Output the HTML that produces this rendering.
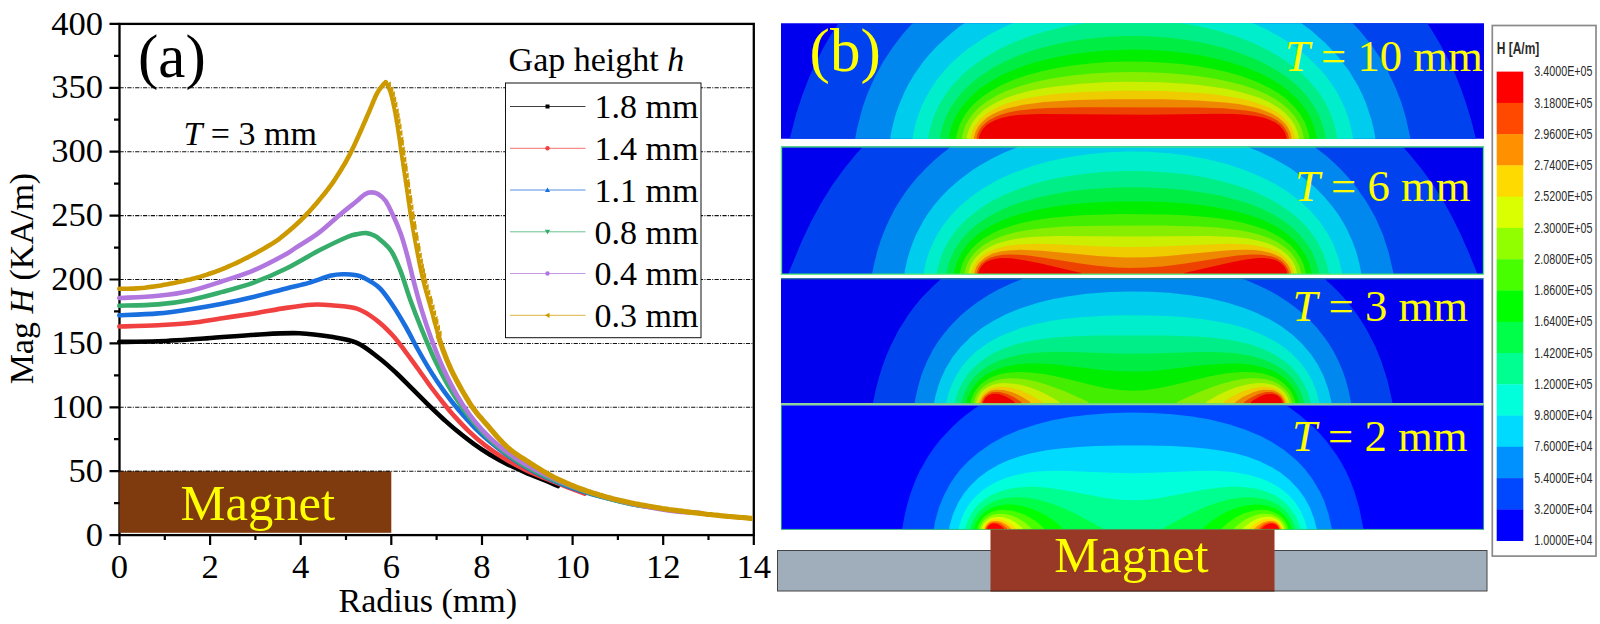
<!DOCTYPE html>
<html lang="en"><head><meta charset="utf-8"><title>Figure</title>
<style>html,body{margin:0;padding:0;background:#fff}svg{display:block}</style></head>
<body>
<svg width="1600" height="624" viewBox="0 0 1600 624" font-family="'Liberation Serif', serif">
<rect width="1600" height="624" fill="#fff"/>
<g id="plotA">
<line x1="119.5" x2="753.8" y1="471.2" y2="471.2" stroke="#111" stroke-width="1.05" stroke-dasharray="4.2 1.3 1 1.33"/>
<line x1="119.5" x2="753.8" y1="407.3" y2="407.3" stroke="#111" stroke-width="1.05" stroke-dasharray="4.2 1.3 1 1.33"/>
<line x1="119.5" x2="753.8" y1="343.4" y2="343.4" stroke="#111" stroke-width="1.05" stroke-dasharray="4.2 1.3 1 1.33"/>
<line x1="119.5" x2="753.8" y1="279.5" y2="279.5" stroke="#111" stroke-width="1.05" stroke-dasharray="4.2 1.3 1 1.33"/>
<line x1="119.5" x2="753.8" y1="215.6" y2="215.6" stroke="#111" stroke-width="1.05" stroke-dasharray="4.2 1.3 1 1.33"/>
<line x1="119.5" x2="753.8" y1="151.7" y2="151.7" stroke="#111" stroke-width="1.05" stroke-dasharray="4.2 1.3 1 1.33"/>
<line x1="119.5" x2="753.8" y1="87.8" y2="87.8" stroke="#111" stroke-width="1.05" stroke-dasharray="4.2 1.3 1 1.33"/>
<rect x="119.5" y="23.9" width="634.3" height="511.2" fill="none" stroke="#000" stroke-width="2.3"/>
<clipPath id="cpA"><rect x="116.1" y="23.9" width="636.7" height="511.2"/></clipPath>
<g fill="none" stroke-width="4.6" stroke-linejoin="round" stroke-linecap="round" clip-path="url(#cpA)">
<path d="M119.3 341.9C125.8 341.8 143.5 341.9 158 341.3C172.5 340.7 188.5 339.6 206.2 338.4C223.8 337.2 248.4 335.1 263.9 334.2C279.4 333.3 288 332.8 299.2 333.2C310.4 333.6 321.6 335.2 331.2 336.8C340.8 338.4 348.9 339.3 356.9 342.9C364.9 346.5 372.8 353.2 379.3 358.2C385.8 363.2 390.5 367.6 396 372.7C401.5 377.8 406.8 383.4 412.1 388.7C417.5 394 422.8 399.4 428.1 404.6C433.4 409.7 439.3 415.3 444.1 419.7C448.9 424 452 426.8 456.9 430.8C461.8 434.8 468.2 439.9 473.7 443.8C479.2 447.8 484 451 489.7 454.5C495.4 457.9 501.7 461.4 507.7 464.4C513.7 467.4 519.7 470 525.7 472.6C531.7 475.2 538.4 477.8 543.7 480C549.1 482.2 555.4 485 557.8 486" stroke="#000000"/>
<path d="M119.3 326.5C125.8 326.3 146.3 325.8 158.1 325.2C169.9 324.6 179.5 324.2 190.2 323C200.9 321.8 211.5 319.8 222.2 318.2C232.9 316.6 243.6 315.1 254.3 313.4C265 311.7 276.7 309.3 286.3 307.9C295.9 306.4 304.5 305.1 312 304.7C319.5 304.3 323.7 304.6 331.2 305.3C338.7 306 349.4 306.2 356.9 308.6C364.4 311 370.2 315.4 376.1 319.8C382 324.2 387.5 329.7 392.4 335C397.3 340.3 401.2 346.1 405.6 351.8C410 357.6 414.2 363.6 418.5 369.5C422.8 375.4 427 381.7 431.3 387.5C435.6 393.2 440.4 399.4 444.1 404C447.8 408.7 449.3 410.6 453.5 415.2C457.7 419.8 463.9 426.6 469.2 431.6C474.5 436.7 479.5 441 485.2 445.4C490.9 449.8 497.2 454.1 503.2 457.8C509.2 461.5 515.2 464.7 521.2 467.7C527.2 470.8 533.2 473.4 539.2 476C545.2 478.6 551.2 480.9 557.2 483.2C563.2 485.6 570.6 488.3 575.2 490.1C579.8 491.8 583.1 493 584.7 493.6" stroke="#F14040"/>
<path d="M119.3 315.3C125.8 315 146.3 314.4 158.1 313.4C169.9 312.4 179.5 310.8 190.2 309.2C200.9 307.6 211.5 305.8 222.2 303.7C232.9 301.6 243.6 299.2 254.3 296.7C265 294.1 277.2 290.7 286.3 288.4C295.4 286.1 301.3 285 308.8 282.9C316.3 280.8 325.3 276.9 331.2 275.5C337.1 274.1 340.1 274.3 344.1 274.2C348.1 274.1 351.8 274.4 355 275C358.2 275.6 359.2 275.4 363.3 277.5C367.4 279.6 374.4 283.1 379.3 287.7C384.2 292.3 388.2 298.6 392.5 305C396.8 311.4 401 318.5 405.3 326C409.6 333.5 413.9 342.3 418.2 350C422.5 357.7 427 365.5 431.3 372.4C435.6 379.3 439.6 385.1 444.1 391.3C448.6 397.5 453.4 403.8 458.5 409.8C463.6 415.8 469.2 422.1 474.6 427.5C480 432.9 484.9 437.5 490.6 442.2C496.3 447 502.6 451.8 508.6 456C514.6 460.2 520.6 463.9 526.6 467.4C532.6 470.8 538.6 473.8 544.6 476.7C550.6 479.5 556.6 482 562.6 484.3C568.6 486.7 574.6 488.8 580.6 490.7C586.6 492.7 592.6 494.4 598.6 496.1C604.6 497.7 610.6 499.2 616.6 500.6C622.6 502 630.8 503.7 634.6 504.5C638.5 505.3 638.9 505.3 639.7 505.5" stroke="#1A6FDF"/>
<path d="M119.3 305.7C125.8 305.5 146.3 305.4 158.1 304.4C169.9 303.4 179.5 302 190.2 299.9C200.9 297.8 211.5 294.8 222.2 291.9C232.9 289 243.6 286.2 254.3 282.3C265 278.4 275.6 273.8 286.3 268.5C297 263.2 308.2 256.1 318.4 250.8C328.6 245.6 340.7 239.8 347.3 237C353.9 234.2 354.8 234.7 358 234C361.2 233.3 364 232.9 366.5 233.1C369 233.3 370.9 234 373 235C375.1 236 376.3 236.3 379.3 239C382.3 241.7 387.6 245.6 391.2 251C394.8 256.4 397.6 263.4 400.8 271.7C404 279.9 407 290.9 410.5 300.5C414 310.1 417.7 319.6 421.7 329.4C425.7 339.2 430.2 350.3 434.5 359.3C438.8 368.4 442.5 375.7 447.3 384C452.1 392.3 458.3 402 463.4 409.2C468.5 416.4 472.7 421.6 477.8 427.2C482.9 432.9 488.1 438.3 493.8 443.3C499.5 448.3 505.8 453.2 511.8 457.4C517.8 461.6 523.8 465.2 529.8 468.5C535.8 471.8 541.8 474.7 547.8 477.4C553.8 480.1 559.8 482.5 565.8 484.7C571.8 487 577.8 489.1 583.8 491.1C589.8 493.1 595.8 494.9 601.8 496.6C607.8 498.4 613.8 500 619.8 501.4C625.8 502.9 631.9 504.2 637.8 505.3C643.7 506.3 652.1 507.3 655 507.7" stroke="#37AD6B"/>
<path d="M119.3 298C125.8 297.6 146.3 296.9 158.1 295.7C169.9 294.5 179.5 293.3 190.2 290.9C200.9 288.5 211.5 284.8 222.2 281.3C232.9 277.8 243.6 274.7 254.3 270.1C265 265.6 279.4 257.8 286.3 254C293.2 250.2 290.6 251.1 296 247.6C301.4 244.1 310.9 238.7 318.4 233.1C325.9 227.5 334.4 219.2 340.8 213.9C347.2 208.6 352.9 204.3 356.9 201C360.9 197.7 362.6 195.6 365 194.2C367.4 192.8 369.1 192.4 371.3 192.4C373.5 192.4 375.6 192.6 378 194C380.4 195.4 383.1 197.2 385.7 201C388.3 204.8 391.3 211.7 393.8 217C396.3 222.3 398.2 226.6 400.5 233C402.8 239.4 405.1 247.5 407.3 255.6C409.5 263.6 411.3 272.2 413.7 281.3C416.1 290.4 418.8 300.6 421.7 310.2C424.6 319.8 427.8 329.3 431.3 338.7C434.8 348.1 438.2 357.3 442.5 366.7C446.8 376.1 452.3 387.1 456.9 395.1C461.4 403.1 465.5 409 469.8 414.8C474.1 420.7 477.8 425.2 482.6 430.3C487.4 435.5 492.9 440.8 498.6 445.5C504.3 450.2 510.6 454.8 516.6 458.7C522.6 462.7 528.6 466.1 534.6 469.3C540.6 472.6 546.6 475.4 552.6 478.1C558.6 480.8 564.6 483.2 570.6 485.5C576.6 487.8 582.6 489.9 588.6 491.8C594.6 493.8 600.6 495.6 606.6 497.3C612.6 499 618.6 500.5 624.6 502C630.6 503.4 636.6 504.8 642.6 506C648.6 507.2 654.6 508.3 660.6 509.2C666.6 510.2 672 511 678.6 511.6C685.2 512.2 696.4 512.7 700 512.9" stroke="#B177DE"/>
<path d="M119.3 288.7L120.6 288.7L122.2 288.7L124.1 288.7L126.3 288.7L128.6 288.7L131.2 288.6L133.8 288.6L136.5 288.4L139.2 288.3L142 288L144.8 287.7L147.8 287.3L150.9 286.9L154.2 286.4L157.5 285.9L160.8 285.4L164.2 284.8L167.5 284.2L170.8 283.5L174.1 282.9L177.3 282.2L180.5 281.6L183.7 280.9L186.9 280.1L190.2 279.4L193.4 278.6L196.6 277.7L199.8 276.9L203 275.9L206.2 274.9L209.4 273.8L212.6 272.7L215.8 271.6L219 270.3L222.2 269.1L225.4 267.8L228.6 266.4L231.8 265L235 263.6L238.2 262.1L241.5 260.5L244.9 258.8L248.3 257.1L251.8 255.2L255.2 253.4L258.6 251.5L261.9 249.7L264.9 248L267.7 246.3L270.3 244.8L272.6 243.4L274.5 242.1L276.3 241L277.9 239.8L279.3 238.8L280.7 237.7L282 236.6L283.4 235.5L284.8 234.4L286.3 233.1L287.9 231.8L289.5 230.4L291.1 229.1L292.7 227.7L294.3 226.3L296 224.8L297.6 223.3L299.2 221.8L300.8 220.3L302.4 218.7L304 217.1L305.6 215.4L307.2 213.7L308.8 212L310.4 210.2L312 208.5L313.6 206.6L315.2 204.8L316.8 202.9L318.4 201L320 199.1L321.6 197.1L323.2 195.2L324.8 193.2L326.4 191.2L328 189.1L329.6 187L331.2 184.8L332.8 182.6L334.4 180.2L336 177.8L337.6 175.3L339.2 172.8L340.8 170.2L342.4 167.5L344.1 164.8L345.7 162L347.3 159.1L348.9 156.1L350.5 153L352.1 149.7L353.8 146.3L355.5 142.6L357.2 138.8L358.9 135.1L360.6 131.3L362.2 127.6L363.7 124.1L365.2 120.7L366.5 117.7L367.7 114.9L368.9 112.2L370 109.6L371 107.1L372 104.8L372.9 102.6L373.7 100.6L374.6 98.7L375.3 96.9L376.1 95.3L376.8 93.9L377.5 92.6L378.1 91.6L378.6 90.7L379.1 89.9L379.6 89.3L380.1 88.6L380.6 88L381 87.4L381.5 86.8L382 86.2L382.5 85.6L383 85L383.5 84.5L383.9 84L384.4 83.5L384.8 83.1L385.1 82.8L385.5 82.5L385.7 82.2" stroke="#CC9900" stroke-linecap="round"/>
<path d="M438.4 336.2L439.3 339L440.2 341.7L441.1 344.4L442 347L442.9 349.7L443.9 352.2L444.9 354.8L445.8 357.3L446.8 359.8L447.9 362.3L448.9 364.7L450 367.1L451 369.4L452.1 371.7L453.2 374L454.4 376.2L455.5 378.4L456.6 380.6L457.8 382.8L459 384.9L460.2 387.1L461.4 389.3L462.7 391.5L464 393.7L465.3 395.9L466.6 398.1L467.9 400.2L469.2 402.3L470.5 404.3L471.7 406.2L473 408L474.2 409.7L475.3 411.1L476.3 412.5L477.3 413.7L478.3 415L479.4 416.2L480.6 417.5L481.9 419L483.3 420.6L484.9 422.4L486.7 424.5L488.7 426.8L490.8 429.3L493.1 432L495.4 434.7L497.8 437.4L500.2 440L502.6 442.6L505 444.9L507.3 447.1L509.5 449L511.8 450.9L514 452.5L516.3 454.1L518.5 455.6L520.8 457.1L523.1 458.5L525.3 459.9L527.6 461.4L529.8 462.8L532 464.3L534.3 465.7L536.5 467.1L538.8 468.5L541 469.9L543.2 471.3L545.5 472.6L547.7 473.9L550 475.1L552.2 476.3L554.4 477.5L556.7 478.6L558.9 479.6L561.2 480.7L563.4 481.7L565.6 482.7L567.9 483.6L570.1 484.6L572.4 485.5L574.6 486.4L576.8 487.3L579.1 488.2L581.3 489L583.6 489.8L585.9 490.6L588.1 491.4L590.4 492.1L592.6 492.9L594.9 493.6L597.1 494.3L599.3 495L601.6 495.6L603.8 496.3L606.1 496.9L608.3 497.5L610.5 498.1L612.8 498.7L615 499.2L617.3 499.8L619.5 500.3L621.7 500.8L624 501.3L626.2 501.8L628.5 502.3L630.8 502.8L633 503.2L635.3 503.7L637.5 504.1L639.8 504.6L642 505L644.2 505.4L646.5 505.8L648.7 506.2L651 506.6L653.2 507L655.4 507.4L657.7 507.7L659.9 508.1L662.2 508.5L664.4 508.8L666.6 509.1L668.9 509.5L671.1 509.8L673.4 510.1L675.6 510.4L677.9 510.7L680.2 510.9L682.4 511.2L684.7 511.5L686.9 511.8L689.1 512.1L691.4 512.4L693.6 512.6L695.9 512.9L698.1 513.2L700.3 513.5L702.6 513.7L704.8 514L707.1 514.3L709.3 514.5L711.5 514.7L713.8 515L716 515.2L718.3 515.4L720.5 515.7L722.8 515.9L725 516.1L727.3 516.3L729.5 516.5L731.7 516.7L734 516.9L736.4 517.1L739 517.3L741.5 517.5L744 517.7L746.4 517.9L748.6 518.1L750.5 518.3L752.2 518.4L753.5 518.5" stroke="#CC9900" stroke-width="5.2"/>
<path d="M385.7 82.2L385.9 82.6L386.2 83.1L386.5 83.7L386.9 84.4L387.3 85.1L387.7 85.9L388.1 86.8L388.5 87.7L388.9 88.6L389.3 89.5L389.6 90.4L390 91.3L390.3 92.3L390.6 93.2L390.9 94.3L391.2 95.4L391.5 96.6L391.9 97.9L392.2 99.4L392.6 101L393 102.8L393.4 104.7L393.8 106.8L394.3 108.9L394.7 111.2L395.2 113.6L395.6 116.1L396.1 118.6L396.5 121.3L397 124L397.5 126.8L397.9 129.9L398.4 133L398.9 136.2L399.4 139.5L399.9 142.9L400.3 146.3L400.8 149.6L401.3 152.9L401.8 156.2L402.3 159.4L402.8 162.6L403.2 165.8L403.7 169L404.2 172.2L404.7 175.4L405.2 178.6L405.6 181.8L406.1 185L406.6 188.2L407.1 191.4L407.5 194.6L408 197.7L408.4 200.9L408.9 204L409.4 207.2L409.8 210.4L410.3 213.7L410.9 217L411.4 220.3L412 223.7L412.6 227.3L413.2 231L413.9 234.7L414.6 238.3L415.2 242L415.9 245.6L416.6 249.1L417.2 252.4L417.8 255.6L418.4 258.5L418.9 261.3L419.4 263.9L419.9 266.4L420.5 268.8L421 271.3L421.5 273.7L422.1 276.1L422.7 278.6L423.3 281.3L424 284.1L424.7 286.9L425.5 289.7L426.3 292.6L427.1 295.6L428 298.5L428.8 301.4L429.7 304.4L430.5 307.3L431.3 310.2L432.1 313.1L432.9 316L433.6 318.9L434.4 321.9L435.2 324.8L436 327.7L436.8 330.6L437.6 333.4L438.4 336.2" stroke="#CC9900" stroke-width="3.8" stroke-linecap="round"/>
<path d="M384.7 84.4L390.9 81.4V87.4ZM387.1 89.5L393.3 86.5V92.5ZM388.7 94.3L394.9 91.3V97.3ZM390 99.4L396.2 96.4V102.4ZM391.2 104.7L397.4 101.7V107.7ZM392.5 111.2L398.7 108.2V114.2ZM393.4 116.1L399.6 113.1V119.1ZM394.3 121.3L400.5 118.3V124.3ZM395.3 126.8L401.5 123.8V129.8ZM396.2 133L402.4 130V136ZM397.2 139.5L403.4 136.5V142.5ZM397.7 142.9L403.9 139.9V145.9ZM398.6 149.6L404.8 146.6V152.6ZM399.1 152.9L405.3 149.9V155.9ZM400.1 159.4L406.3 156.4V162.4ZM401 165.8L407.2 162.8V168.8ZM401.5 169L407.7 166V172ZM402.5 175.4L408.7 172.4V178.4ZM403.4 181.8L409.6 178.8V184.8ZM403.9 185L410.1 182V188ZM404.9 191.4L411.1 188.4V194.4ZM405.8 197.7L412 194.7V200.7ZM406.2 200.9L412.4 197.9V203.9ZM407.2 207.2L413.4 204.2V210.2ZM408.1 213.7L414.3 210.7V216.7ZM408.7 217L414.9 214V220ZM409.8 223.7L416 220.7V226.7ZM410.4 227.3L416.6 224.3V230.3ZM411.7 234.7L417.9 231.7V237.7ZM412.4 238.3L418.6 235.3V241.3ZM413.7 245.6L419.9 242.6V248.6ZM414.4 249.1L420.6 246.1V252.1ZM415.6 255.6L421.8 252.6V258.6ZM416.7 261.3L422.9 258.3V264.3ZM417.7 266.4L423.9 263.4V269.4ZM418.8 271.3L425 268.3V274.3ZM419.9 276.1L426.1 273.1V279.1ZM421.1 281.3L427.3 278.3V284.3ZM422.5 286.9L428.7 283.9V289.9ZM424.1 292.6L430.3 289.6V295.6ZM425.8 298.5L432 295.5V301.5ZM426.6 301.4L432.8 298.4V304.4ZM428.3 307.3L434.5 304.3V310.3ZM429.9 313.1L436.1 310.1V316.1ZM431.4 318.9L437.6 315.9V321.9ZM432.2 321.9L438.4 318.9V324.9ZM433.8 327.7L440 324.7V330.7ZM435.4 333.4L441.6 330.4V336.4Z" fill="#CC9900" stroke="none"/>
</g>
<rect x="119.3" y="471.2" width="272" height="61.6" fill="#7F3A0E"/>
<line x1="119.5" x2="391.3" y1="471.2" y2="471.2" stroke="#111" stroke-width="1.05" stroke-dasharray="4.2 1.3 1 1.33"/>
<path d="M109.5 535.1H119.5M114 503.2H119.5M109.5 471.2H119.5M114 439.2H119.5M109.5 407.3H119.5M114 375.4H119.5M109.5 343.4H119.5M114 311.4H119.5M109.5 279.5H119.5M114 247.6H119.5M109.5 215.6H119.5M114 183.7H119.5M109.5 151.7H119.5M114 119.7H119.5M109.5 87.8H119.5M114 55.8H119.5M109.5 23.9H119.5M119.5 535.1V545.1M164.8 535.1V540.1M210.1 535.1V545.1M255.4 535.1V540.1M300.7 535.1V545.1M346 535.1V540.1M391.3 535.1V545.1M436.6 535.1V540.1M482 535.1V545.1M527.3 535.1V540.1M572.6 535.1V545.1M617.9 535.1V540.1M663.2 535.1V545.1M708.5 535.1V540.1M753.8 535.1V545.1" stroke="#000" stroke-width="2.2" fill="none"/>
<g font-size="34" fill="#000">
<text x="103" y="545.7" text-anchor="end" font-size="34.6">0</text>
<text x="103" y="481.8" text-anchor="end" font-size="34.6">50</text>
<text x="103" y="417.9" text-anchor="end" font-size="34.6">100</text>
<text x="103" y="354" text-anchor="end" font-size="34.6">150</text>
<text x="103" y="290.1" text-anchor="end" font-size="34.6">200</text>
<text x="103" y="226.2" text-anchor="end" font-size="34.6">250</text>
<text x="103" y="162.3" text-anchor="end" font-size="34.6">300</text>
<text x="103" y="98.4" text-anchor="end" font-size="34.6">350</text>
<text x="103" y="34.5" text-anchor="end" font-size="34.6">400</text>
<text x="119.5" y="578.4" text-anchor="middle" font-size="34.6">0</text>
<text x="210.1" y="578.4" text-anchor="middle" font-size="34.6">2</text>
<text x="300.7" y="578.4" text-anchor="middle" font-size="34.6">4</text>
<text x="391.3" y="578.4" text-anchor="middle" font-size="34.6">6</text>
<text x="482" y="578.4" text-anchor="middle" font-size="34.6">8</text>
<text x="572.6" y="578.4" text-anchor="middle" font-size="34.6">10</text>
<text x="663.2" y="578.4" text-anchor="middle" font-size="34.6">12</text>
<text x="753.8" y="578.4" text-anchor="middle" font-size="34.6">14</text>
<text x="427.8" y="611.5" text-anchor="middle">Radius (mm)</text>
<text transform="translate(33.2 278.6) rotate(-90)" text-anchor="middle">Mag <tspan font-style="italic">H</tspan> (KA/m)</text>
<text x="183.4" y="145"><tspan font-style="italic">T</tspan> = 3 mm</text>
<text x="508.6" y="70.8">Gap height <tspan font-style="italic">h</tspan></text>
</g>
<text x="138" y="77.3" font-size="61" fill="#000">(a)</text>
<text x="257.8" y="519.6" font-size="50.6" fill="#FFFF00" text-anchor="middle">Magnet</text>
<rect x="505.5" y="83" width="195.5" height="254.7" fill="#fff" stroke="#111" stroke-width="1"/>
<line x1="510" x2="585.5" y1="106.5" y2="106.5" stroke="#000000" stroke-width="1" stroke-opacity="0.75"/>
<rect x="545.5" y="104.5" width="4" height="4" fill="#000000"/>
<text x="594.6" y="118.4" font-size="34" fill="#000">1.8 mm</text>
<line x1="510" x2="585.5" y1="148.3" y2="148.3" stroke="#F14040" stroke-width="1" stroke-opacity="0.75"/>
<circle cx="547.5" cy="148.3" r="2.2" fill="#F14040"/>
<text x="594.6" y="160.2" font-size="34" fill="#000">1.4 mm</text>
<line x1="510" x2="585.5" y1="190" y2="190" stroke="#1A6FDF" stroke-width="1" stroke-opacity="0.75"/>
<path d="M544.9 192L550.1 192L547.5 187.4Z" fill="#1A6FDF"/>
<text x="594.6" y="201.9" font-size="34" fill="#000">1.1 mm</text>
<line x1="510" x2="585.5" y1="231.8" y2="231.8" stroke="#37AD6B" stroke-width="1" stroke-opacity="0.75"/>
<path d="M544.9 229.8L550.1 229.8L547.5 234.4Z" fill="#37AD6B"/>
<text x="594.6" y="243.7" font-size="34" fill="#000">0.8 mm</text>
<line x1="510" x2="585.5" y1="273.5" y2="273.5" stroke="#B177DE" stroke-width="1" stroke-opacity="0.75"/>
<circle cx="547.5" cy="273.5" r="2.2" fill="#B177DE"/>
<text x="594.6" y="285.4" font-size="34" fill="#000">0.4 mm</text>
<line x1="510" x2="585.5" y1="315.3" y2="315.3" stroke="#CC9900" stroke-width="1" stroke-opacity="0.75"/>
<path d="M549.5 312.7L549.5 317.9L544.9 315.3Z" fill="#CC9900"/>
<text x="594.6" y="327.2" font-size="34" fill="#000">0.3 mm</text>
</g>
<defs>
<clipPath id="cp0"><rect x="781.0" y="23.2" width="703.0" height="115.6"/></clipPath>
<clipPath id="cp1"><rect x="781.0" y="146.4" width="703.0" height="127.5"/></clipPath>
<clipPath id="cp2"><rect x="781.0" y="278.3" width="703.0" height="125"/></clipPath>
<clipPath id="cp3"><rect x="781.0" y="405.3" width="703.0" height="124.2"/></clipPath>
</defs>
<g clip-path="url(#cp0)">
<rect x="780.0" y="22.2" width="705.0" height="117.6" fill="#0000EE"/>
<path d="M789.8 141.8L1475.8 141.8L1475.8 138.2L1471.2 120.2L1466.5 104.7L1460.9 88.6L1455.6 75.3L1448.4 59.8L1440.2 44.2L1430.9 28.7L1425.1 20.2L840.6 20.2L830.9 34.8L823.4 47.7L815.9 62.3L809.3 77.1L802.3 95.2L796.3 113.6L789.8 138.4Z" fill="#0043EE" fill-rule="evenodd"/>
<path d="M855.2 141.8L1410.4 141.8L1410.4 138.4L1406.1 118.5L1401.1 101.8L1395.4 87.2L1387.7 71L1379.6 57.1L1370.8 44.2L1360.9 31.9L1349.9 20.2L915.7 20.2L909.9 26.1L902.3 34.8L892.4 47.7L883.3 61.5L874.8 77.1L867.2 94.3L862.4 108.1L857.1 128.6L855.2 138.4Z" fill="#0088EE" fill-rule="evenodd"/>
<path d="M890.2 141.8L1375.4 141.8L1375.4 138.4L1373.9 129.8L1371.4 119.4L1365.9 103L1362.2 94.3L1358.1 85.9L1349.1 71L1338.6 57.2L1325.8 43.4L1312.1 31.3L1303.1 24.4L1296.9 20.2L968.8 20.2L959.9 26.3L951.5 32.9L937.4 45.8L929.9 53.8L923.4 61.6L913.7 75.3L908.1 84.8L904.6 91.8L898.2 106.9L896 113.3L892.5 126.2L890.4 136.6Z" fill="#00CCEE" fill-rule="evenodd"/>
<path d="M912.5 141.8L1353.1 141.8L1353.1 138.4L1350.9 127.1L1348.6 118.5L1344.8 108.1L1341.3 100.4L1336.6 91.6L1332.2 84.8L1325.2 75.3L1319.8 69L1312.2 61.3L1303.8 53.8L1296.1 47.7L1286.1 40.8L1277.7 35.6L1266.6 29.6L1255.8 24.4L1245.9 20.2L1020.2 20.2L1009.9 24.4L1000.1 29L987.9 35.6L975.6 43.4L967.4 49.3L957.8 57.2L950.5 64.1L944.1 71L937.4 79.1L930.6 89.1L926.1 96.9L922.5 104.2L918.8 113.4L915.3 124.6L912.6 137.5Z" fill="#00EECC" fill-rule="evenodd"/>
<path d="M928.2 141.8L1337.4 141.8L1337.4 138.4L1334.9 126.2L1330.9 114.2L1325.9 103.8L1320.7 95.2L1316.9 90L1307.2 78.8L1296.4 68.8L1283 58.9L1269.2 50.7L1254.3 43.4L1237.5 36.7L1217.2 30.4L1195.4 25.5L1174.9 22.3L1159 20.8L1149.6 20.2L1116 20.2L1100.1 21.3L1080.4 23.8L1062.7 27L1044.9 31.4L1028.1 36.7L1011.3 43.4L998.2 49.7L983.2 58.5L970.8 67.6L961.9 75.3L951.4 86.6L944.9 95.2L938.4 106.2L933.4 117.6L929.4 131.4L928.2 138.4Z" fill="#00EE88" fill-rule="evenodd"/>
<path d="M939.9 141.8L1325.8 141.8L1325.8 138.4L1323.6 128L1319.8 117L1314.2 106.4L1307.6 96.9L1300.6 89.1L1291.1 80.5L1284.3 75.3L1277.7 70.9L1265.5 63.9L1253.4 58.2L1238.4 52.4L1223.4 47.7L1202.9 42.8L1186.1 39.8L1167.4 37.6L1147.8 36.2L1127.2 36L1111.3 36.6L1089.8 38.4L1069.2 41.5L1051.5 45.2L1035.6 49.6L1019.7 55.1L1004.9 61.5L993.4 67.6L981.4 75.2L973.4 81.4L964.1 90L956.7 98.6L950.3 108.1L947.1 114.2L944.2 121.1L942.1 127.5L940.6 134.1L939.9 138.4Z" fill="#00EE43" fill-rule="evenodd"/>
<path d="M948.9 141.8L1316.8 141.8L1316.8 138.4L1315.4 131.4L1313.9 126.2L1310.4 117.6L1305.3 109L1298.2 100.1L1288.9 91.2L1280.4 84.8L1270.2 78.5L1258.8 72.8L1245.9 67.4L1230.9 62.5L1213.2 57.9L1200.1 55.3L1183.2 52.8L1167.4 51.1L1145.9 49.8L1129.1 49.6L1106.6 50.4L1089.8 51.9L1073.9 53.9L1058 56.8L1044 59.9L1030.9 63.6L1016.9 68.5L1001.4 75.3L990.5 81.4L979.2 89.1L972.2 95.2L964.1 103.8L957.1 114.1L952.9 122.8L951.1 128L949.4 134.9L948.9 138.4Z" fill="#00EE00" fill-rule="evenodd"/>
<path d="M956 141.8L1309.6 141.8L1309.6 138.4L1308.4 132.3L1305.1 122.8L1300.2 114.2L1294.5 106.9L1286.8 99.5L1279.6 94L1270.2 88.2L1257.1 81.9L1241.2 76.1L1227.2 72.1L1210.8 68.4L1198.2 66.2L1181.4 64.1L1161.2 62.4L1145.9 61.7L1125.3 61.6L1108.5 62.1L1089.8 63.5L1072.1 65.6L1058 67.8L1042.8 71L1026.8 75.3L1015.1 79.3L1002.1 84.8L990.9 90.9L982.3 96.7L974.1 103.8L969.2 109L963.6 116.9L959.9 124.2L956.8 134.1L956 138.4Z" fill="#43EE00" fill-rule="evenodd"/>
<path d="M961.8 141.8L1303.8 141.8L1303.8 138.4L1301.8 129.8L1299.2 123.5L1294.5 116.1L1288.2 109L1282.3 104L1274.4 98.6L1266.5 94.3L1254.4 89.1L1241.4 84.8L1228 81.4L1214.1 78.6L1199.2 76.2L1183.2 74.4L1165.5 73.1L1147.8 72.3L1129.1 72.1L1110.4 72.6L1092.6 73.6L1074 75.3L1059.9 77.2L1047.8 79.2L1032.8 82.5L1019.7 86.2L1005.7 91.3L997.4 95.2L987 101.3L979.5 107.1L974.1 112.4L969.4 118.5L965.1 126.2L962.4 134.9L961.8 138.4Z" fill="#88EE00" fill-rule="evenodd"/>
<path d="M966.6 141.8L1299.1 141.8L1299.1 138.4L1297.3 130.9L1294.4 124.6L1290.3 118.5L1284.5 112.4L1279.6 108.5L1270.2 102.8L1261.1 98.6L1251.5 95.2L1238.4 91.6L1227.1 89.1L1212.2 86.7L1196.8 84.8L1185.1 83.8L1160.8 82.3L1124.4 81.8L1104.8 82.3L1080.4 83.8L1053.4 86.7L1038.6 89.1L1027.2 91.6L1016.9 94.3L1006.6 97.8L998.2 101.4L989.8 106L983.2 110.6L977.6 115.8L972.8 121.9L969.1 128.9L966.8 136.6Z" fill="#CCEE00" fill-rule="evenodd"/>
<path d="M970.5 141.8L1295.1 141.8L1295.1 138.4L1293.8 132.3L1290.9 126.2L1288 121.9L1282.3 116.2L1277.7 112.6L1269.8 108.1L1262.7 105L1251.5 101.3L1240.4 98.6L1230 96.7L1215.1 94.6L1199.2 93.1L1162.7 91.1L1121.6 90.8L1083.2 91.9L1053.3 94.3L1038.4 96.2L1025.2 98.6L1017.8 100.3L1007.6 103.3L999.1 106.6L991.7 110.3L985.8 114.2L979.5 119.8L974.6 126.2L972.5 130.6L970.8 136.6Z" fill="#EECC00" fill-rule="evenodd"/>
<path d="M973.8 141.8L1291.8 141.8L1291.8 138.4L1290.3 132.3L1287.7 127.1L1284.3 122.8L1278.6 117.8L1272.1 113.8L1265.5 110.9L1259 108.6L1248.7 106L1238.4 104.1L1225.3 102.4L1197.3 100.4L1162.7 99.3L1112.2 99.2L1076.8 100L1044 102.1L1021.6 105.1L1006.6 108.6L999.1 111.2L992.6 114.3L987.2 117.6L982.1 121.9L978.5 126.2L975.6 131.4L973.9 137.5Z" fill="#EE8800" fill-rule="evenodd"/>
<path d="M976.5 141.8L1289.1 141.8L1289.1 138.4L1287.8 133.2L1284.9 128L1282 124.6L1276.8 120.3L1271.1 117.2L1262.7 114L1255.2 112.1L1245.9 110.4L1223.4 108.2L1198.2 107.4L1080.4 107.2L1049.6 107.9L1034.7 108.8L1016.9 110.8L1008.6 112.4L1002.9 114L996.4 116.4L990.4 119.4L986.6 121.9L982 126.2L979.5 129.8L977.6 133.8L976.5 138.4Z" fill="#EE4300" fill-rule="evenodd"/>
<path d="M978.9 141.8L1286.8 141.8L1286.8 138.4L1284.9 132.3L1282.6 128.9L1279.6 125.6L1274.9 122.3L1268.3 119.3L1262.9 117.6L1255.2 116L1244.9 114.8L1234.7 114.1L1218.8 113.8L1147.8 114.8L1040.2 113.9L1020.6 114.8L1010.4 116L1001 118.1L994.5 120.4L988.9 123.5L986.1 125.6L982.9 128.9L981.2 131.4L979.4 135.8L978.9 138.4Z" fill="#EE0000" fill-rule="evenodd"/>
</g>
<g clip-path="url(#cp1)">
<rect x="780.0" y="145.4" width="705.0" height="129.5" fill="#0000EE"/>
<path d="M788.6 276.9L1477 276.9L1477 272.9L1468.7 252.5L1460.1 233L1450.8 214.4L1443.6 201.4L1433.9 185.9L1422.4 169.9L1408.9 153.4L1401.1 144.8L1399.3 143.4L866.2 143.4L863.4 146.1L854.8 155.6L843.2 169.9L832.7 184.5L821.5 202.4L811.4 220.9L802 240.8L788.6 272.9Z" fill="#0043EE" fill-rule="evenodd"/>
<path d="M872.2 276.9L1393.4 276.9L1393.4 272.9L1388.8 252.9L1383.1 235.2L1375.4 217.6L1366.3 201.4L1355.2 185.8L1347.4 176.4L1341.4 169.9L1334.8 163.4L1326.5 156.1L1310.2 143.6L956.3 143.4L953.6 144.8L942.9 152.9L934.3 160.2L925.7 168.4L917.1 177.6L911.1 184.8L905.6 192.1L899.3 201.4L895 208.6L889.1 220L885.7 227.4L881 239.5L877.4 250.7L874.8 260.9L872.2 272.9Z" fill="#0088EE" fill-rule="evenodd"/>
<path d="M904.4 276.9L1361.2 276.9L1361.2 272.9L1359.4 263.6L1356.4 252.5L1352.1 240.4L1347.4 230.2L1343.4 222.8L1338 214.1L1332.2 206.2L1324.3 196.8L1315.9 188.3L1309.9 182.9L1301.6 176.2L1290.1 168.1L1282.4 163.4L1272.2 157.8L1258.6 151.3L1247.2 146.7L1237.3 143.4L1028.3 143.4L1020.8 145.8L1004.3 152.5L991.6 158.8L980.1 165.2L971.5 170.8L959.2 179.9L949.7 188.3L942 196.1L934.3 205L927.6 214.1L922.8 221.7L915.9 234.9L911.8 245.1L907.9 257.1L904.7 271.1Z" fill="#00CCEE" fill-rule="evenodd"/>
<path d="M923.6 276.9L1342.1 276.9L1342.1 272.9L1338.8 259L1333.7 245.1L1327.4 232.9L1319.2 220.9L1310.4 210.8L1300.4 201.4L1288.1 192.1L1274.9 183.8L1260.2 176.4L1244.5 169.9L1226.8 164.1L1207.6 159.2L1187.4 155.6L1169.2 153.3L1147.2 151.8L1128.9 151.6L1109.8 152.2L1087.8 154.2L1066.6 157.5L1049.4 161.2L1033.1 165.8L1012.9 173.1L998.6 179.6L982.9 188.4L970.8 196.9L959.2 206.8L950.6 215.8L942 226.9L937.6 233.9L934.3 239.9L928.9 252.5L926 261.8L923.6 272.9Z" fill="#00EECC" fill-rule="evenodd"/>
<path d="M936.8 276.9L1328.9 276.9L1328.9 272.9L1326.5 262.7L1322.9 252.5L1317.8 242.3L1310.2 231.2L1302.8 222.8L1292.9 213.9L1281.4 205.7L1268 198L1252.6 191.1L1239.2 186.2L1220.1 180.8L1205.7 177.6L1187.4 174.6L1167.3 172.4L1147.2 171.2L1126.1 171.1L1102.1 172.1L1082.9 174L1065.7 176.6L1048.4 180.1L1034.1 183.8L1019.8 188.4L1003.9 194.9L990.9 201.6L979.4 208.9L967.9 218L959.2 226.6L953.3 233.9L948.9 240.4L945.8 245.9L941.2 256.2L937.4 269.2L936.8 272.9Z" fill="#00EE88" fill-rule="evenodd"/>
<path d="M946.4 276.9L1319.2 276.9L1319.2 272.9L1316 260.9L1311.9 251.6L1307.3 243.9L1300.1 234.9L1292.4 227.4L1285.2 221.9L1273.4 214.4L1262.2 208.9L1250.8 204.3L1237.3 199.9L1221 195.8L1205.7 192.9L1185.6 190.1L1167.7 188.4L1147.2 187.4L1128 187.2L1109.8 187.8L1088.7 189.2L1071.4 191.1L1054.2 193.9L1037.9 197.4L1023.3 201.4L1010.1 206.1L998.6 211.2L987.1 217.4L976.5 224.8L967.9 232.4L961.5 239.5L955.2 248.8L950.6 258.2L948.7 263.6L946.4 272.9Z" fill="#00EE43" fill-rule="evenodd"/>
<path d="M953.9 276.9L1311.8 276.9L1311.8 272.9L1309.2 263.6L1305.6 255.3L1300.2 246.9L1294.6 240.4L1286 233L1276.6 226.8L1268 222.3L1257.4 217.9L1245 213.8L1229.6 209.9L1214.3 207L1198 204.8L1183.6 203.3L1164.4 202.1L1146.2 201.4L1123.2 201.4L1106.9 201.8L1086.8 202.9L1071.4 204.3L1053.2 206.7L1035.9 209.9L1023.5 212.9L1012 216.5L1000.6 220.9L990.9 225.8L981.3 231.8L972.9 238.6L966.9 245.1L962.1 251.6L957.8 259.9L954.4 270.1L953.9 272.9Z" fill="#00EE00" fill-rule="evenodd"/>
<path d="M959.8 276.9L1305.8 276.9L1305.8 272.9L1303.9 265.5L1300.6 258.1L1295.8 251L1290.1 244.8L1281.4 238.1L1274.4 233.9L1265.1 229.6L1254.6 225.9L1244 223L1232.5 220.6L1220.1 218.6L1203.8 216.7L1184.6 215.2L1164.4 214.4L1119.4 214L1081 215.2L1061.9 216.7L1049.4 218.1L1033.1 220.6L1021.6 223L1011.1 225.9L1001.4 229.2L993 233L983.4 238.6L976.5 243.9L970.8 249.8L965.6 257.1L962.4 263.6L959.8 272.9Z" fill="#43EE00" fill-rule="evenodd"/>
<path d="M964.5 276.9L1301.1 276.9L1301.1 272.9L1299.3 266.4L1295.8 259.2L1290.7 252.5L1285.2 247.5L1276.6 241.8L1269.9 238.6L1260.3 235.1L1250.8 232.5L1241.1 230.6L1229.6 228.9L1217.2 227.6L1199.2 226.5L1161.6 225.6L1098.3 225.7L1063.8 226.6L1039.8 228.4L1028.3 229.9L1016.8 232.1L1009.1 233.9L1000.5 236.7L990.9 240.8L983.6 245.1L977.5 249.9L974.1 253.4L970.5 258.1L967 264.6L964.7 272Z" fill="#88EE00" fill-rule="evenodd"/>
<path d="M968.4 276.9L1297.2 276.9L1297.2 272.9L1294.9 265.5L1291.7 259.9L1287.2 254.7L1281.4 250.1L1274.2 246L1267 243.1L1257.4 240.4L1247.9 238.6L1234.4 237.1L1208.6 235.9L1133.8 236.5L1057.1 235.9L1031.2 237.1L1018.1 238.6L1011.1 239.8L1002.4 241.9L996.7 243.8L990.9 246.2L985.1 249.4L980.9 252.5L976.1 257.1L973.9 259.9L971.6 263.6L969.3 269.2L968.4 272.9Z" fill="#CCEE00" fill-rule="evenodd"/>
<path d="M971.6 276.9L1293.9 276.9L1293.9 272.9L1292.7 268.3L1290.1 263.1L1286.8 259L1281.4 254.4L1276.5 251.6L1268 248.2L1262.2 246.7L1252.6 245.1L1239.2 244L1224.8 243.8L1154.9 246.7L1126.1 247L1101.2 246.4L1057.1 244.2L1034.1 243.8L1017.8 244.6L1006.8 246L995.7 248.8L988 252.1L981.3 256.6L978.8 259L975.6 263.1L973.6 266.6L972.3 270.1L971.6 272.9Z" fill="#EECC00" fill-rule="evenodd"/>
<path d="M974.3 276.9L1291.3 276.9L1291.3 272.9L1290.1 268.7L1287.9 264.6L1284.3 260.4L1280.1 257.1L1274.7 254.4L1269.9 252.7L1262.2 251L1254.6 250.1L1245.9 249.8L1233.5 250.1L1220.1 251.1L1164.9 256.2L1147.2 257.2L1126.1 257.4L1100.7 256.2L1041.7 250.8L1019.7 249.8L1008.2 250.4L1000.2 251.6L992.8 253.6L985.1 257.4L979.4 262.4L976.5 266.6L974.5 272Z" fill="#EE8800" fill-rule="evenodd"/>
<path d="M976.6 276.9L1289.1 276.9L1289.1 272.9L1287.9 269.2L1285.8 265.5L1282.4 261.8L1279.8 259.9L1276.3 258.1L1271.8 256.4L1262.2 254.8L1250.8 254.5L1237.3 255.6L1220.1 257.9L1183.6 263.8L1162.5 266.4L1146.2 267.6L1129.9 267.9L1115 267.4L1097.3 265.8L1082 263.8L1045.6 257.9L1028.3 255.6L1018.7 254.7L1009.1 254.4L1002.4 254.8L995.7 255.9L989.3 258.1L985.1 260.4L981.3 263.6L978.1 268.3L976.6 272.9Z" fill="#EE4300" fill-rule="evenodd"/>
<path d="M978.4 276.9L1081.3 276.9L1081.3 272.9L1041.1 263.6L1024.4 260.2L1011.1 258.3L1001.4 258.1L995.7 258.7L990.9 259.9L987.1 261.6L984.1 263.6L981.3 266.5L979.4 269.8L978.4 272.9ZM1184.2 276.9L1287.1 276.9L1287.1 272.9L1286.2 269.8L1284.3 266.5L1281.4 263.6L1277.6 261.1L1273.8 259.6L1269.9 258.7L1264.1 258.1L1258.4 258.1L1245.9 259.4L1232.5 261.9L1184.2 272.9Z" fill="#EE0000" fill-rule="evenodd"/>
</g>
<g clip-path="url(#cp2)">
<rect x="780.0" y="277.3" width="705.0" height="127" fill="#0000EE"/>
<path d="M873.1 406.3L1392.4 406.3L1392.4 402.1L1387.2 379.6L1381.5 361.7L1375.2 346.2L1366.3 328.9L1356.8 314.1L1345.4 299.6L1338.8 292.2L1331.2 284.8L1321.9 276.6L1319.8 275.3L945.8 275.3L943.7 276.6L933.8 285.4L921.4 298.1L914.5 306.5L908.3 314.8L898.4 330.5L890.8 345.4L886 356.6L882.3 366.8L879.2 376.6L875.4 391.3L873.1 402.1Z" fill="#0043EE" fill-rule="evenodd"/>
<path d="M914.8 406.3L1350.9 406.3L1350.9 402.1L1348.5 390.3L1345.9 380.6L1342.6 370.8L1338.9 361.9L1333.9 352.1L1328.6 343.2L1323.8 336.4L1316.7 327.6L1310.2 320.7L1301.8 312.8L1295.1 307.3L1287.5 301.8L1277.1 295.1L1269.5 290.8L1258.6 285.4L1247.1 280.5L1232.4 275.3L1033.1 275.3L1021.1 279.5L1012.2 283.1L998.9 289.3L988.5 295.1L978.1 301.8L968.4 308.9L961.5 314.8L951.5 324.7L944.1 333.4L937.6 342.3L932.5 350.6L926.8 361.7L921.6 374.6L918.1 386.4L914.9 401.1Z" fill="#0088EE" fill-rule="evenodd"/>
<path d="M934.2 406.3L1331.4 406.3L1331.4 402.1L1328.4 389.4L1323.8 376.6L1317.9 364.8L1311.2 354.6L1301.8 343.4L1292.2 334.6L1280.9 326.1L1269.5 319.2L1256.2 312.8L1244.1 307.9L1227.7 302.8L1208 298.1L1190.4 295.2L1168.9 292.8L1149.9 291.7L1129.9 291.4L1110 291.9L1086.3 293.8L1067.3 296.4L1052.1 299.2L1037.9 302.8L1020.8 308.2L1004.9 314.8L993.6 320.7L982.6 327.6L971.4 336.2L960.4 347.2L952.4 357.3L945.5 368.8L940.2 380.6L937.8 387.4L935.4 396.2L934.2 402.1Z" fill="#00CCEE" fill-rule="evenodd"/>
<path d="M946.4 406.3L1319.2 406.3L1319.2 402.1L1316.4 391.3L1312.1 380.6L1307.1 371.7L1300.7 362.9L1291.1 353.1L1283.7 347.1L1274.2 340.9L1260.9 334.2L1247.6 329.1L1234.4 325.1L1220.1 321.9L1204.9 319.4L1185.9 317.3L1167.9 316.1L1148.9 315.4L1124.2 315.2L1106.2 315.7L1083.4 317L1065.4 318.8L1050.2 321.1L1035.1 324.2L1020.8 328.1L1006.6 333.4L997.1 337.8L987.6 343.2L977.1 350.8L970.3 357L962.6 365.8L956.2 375.4L951.4 385.4L948.3 394.2L946.4 402.1Z" fill="#00EECC" fill-rule="evenodd"/>
<path d="M954.9 406.3L1310.6 406.3L1310.6 402.1L1307.8 392.3L1303.3 382.5L1297.9 374.4L1291.2 366.8L1284.7 361.2L1275.2 354.9L1263.4 349.1L1252.4 345.1L1238.1 341.4L1226.8 339.4L1210.6 337.4L1195.7 336.4L1163.2 335.5L1096.8 335.6L1069.9 336.4L1055 337.4L1038.8 339.4L1027.4 341.4L1013.2 345.1L1003.7 348.5L995.2 352.3L986.6 357.2L978.8 362.9L972.4 368.9L967.4 374.6L962.9 381.4L958.6 390.3L956.2 397.2L954.9 402.1Z" fill="#00EE88" fill-rule="evenodd"/>
<path d="M961.4 406.3L1304.2 406.3L1304.2 402.1L1301.8 394.1L1298.1 386.4L1292.6 378.6L1286.8 372.7L1281.8 368.8L1272.3 363.2L1262 358.9L1250.5 355.8L1234.4 353.1L1214.4 351.9L1199.2 351.9L1149.9 353.6L1127.1 353.8L1072.1 352L1055.9 351.8L1041.7 352.2L1031.8 353.1L1023.6 354.1L1015.1 355.8L1001.8 359.6L996.1 361.9L988.5 365.8L982.8 369.5L978.1 373.4L973.9 377.6L969.3 383.5L965.8 389.7L963.4 395.2L961.4 402.1Z" fill="#00EE43" fill-rule="evenodd"/>
<path d="M966.4 406.3L1299.2 406.3L1299.2 402.1L1296.6 394.2L1293.5 388.4L1289 382.5L1283.8 377.6L1276.1 372.6L1269.5 369.5L1260 366.5L1251.5 364.8L1239.1 363.6L1222 363.7L1204 365.1L1157.5 370.5L1142.3 371.4L1128.1 371.6L1105.2 370.2L1053.1 364.3L1040.8 363.6L1030.3 363.5L1017.9 364.3L1005.6 366.5L995.2 369.9L985.7 374.8L978.1 380.9L972.4 387.9L969.4 393.3L967.6 397.7L966.4 402.1Z" fill="#00EE00" fill-rule="evenodd"/>
<path d="M970.3 406.3L1295.2 406.3L1295.2 402.1L1293.7 397.2L1290.1 390.3L1285.6 385L1281.4 381.5L1275.2 377.8L1269.5 375.4L1262.8 373.6L1254.3 372.3L1241 372L1224.9 373.6L1207.8 376.8L1173.6 385.1L1159.4 388.1L1144.2 390.2L1130.9 390.7L1117.6 389.8L1105.2 387.9L1092 385.1L1061.4 377.6L1045.5 374.3L1031.2 372.4L1017.9 371.9L1005.6 373.1L998.7 374.6L990.8 377.6L984.2 381.5L980.6 384.4L978.1 387.1L973.8 393.3L970.6 401.1Z" fill="#43EE00" fill-rule="evenodd"/>
<path d="M973.6 406.3L1088.5 406.3L1088.5 402.1L1065.4 391.6L1046.2 384.4L1035.1 381.3L1026.5 379.6L1017.9 378.5L1009.4 378.2L1001.8 378.9L995.2 380.4L988.5 383.2L983.6 386.4L979.6 390.3L976.2 395.3L973.6 402.1ZM1177.1 406.3L1292.1 406.3L1292.1 402.1L1289.4 395.3L1286.6 390.9L1283.2 387.4L1278 383.7L1272.3 381.1L1265.7 379.2L1256.2 378.2L1250.5 378.3L1241.9 379.1L1232.4 380.9L1221.1 383.9L1210.9 387.4L1196.4 393.2L1177.1 402.1Z" fill="#88EE00" fill-rule="evenodd"/>
<path d="M976.2 406.3L1059.4 406.3L1059.4 402.1L1051.2 397.1L1044.5 393.6L1036.9 390.1L1030.3 387.6L1021.8 385.1L1016.1 383.9L1004.7 383L998 383.6L992.3 385.1L987.6 387.2L983.2 390.3L980.9 392.8L978.1 397.2L976.2 402.1ZM1206.2 406.3L1289.4 406.3L1289.4 402.1L1287.6 397.2L1285.8 394.2L1282.3 390.3L1278.3 387.4L1275.2 385.8L1270.4 384.2L1264.8 383.2L1258.1 383.1L1249.6 383.9L1242.9 385.4L1235.3 387.6L1226.8 390.9L1218.2 395L1206.2 402.1Z" fill="#CCEE00" fill-rule="evenodd"/>
<path d="M978.4 406.3L1042.2 406.3L1042.2 402.1L1031.2 395.2L1020.1 390.3L1012.2 388L1007.5 387.1L1001.8 386.7L998 386.9L993.2 387.7L989.5 389.1L986.6 390.6L983.8 392.9L981.7 395.2L979.4 399.2L978.4 402.1ZM1223.4 406.3L1287.2 406.3L1287.2 402.1L1285.7 398.2L1283.9 395.2L1281.8 392.9L1278.5 390.3L1274.4 388.4L1270.9 387.4L1267.6 386.9L1261.9 386.8L1256.5 387.4L1249.6 389L1242.9 391.3L1236.2 394.3L1230.9 397.2L1223.4 402.1Z" fill="#EECC00" fill-rule="evenodd"/>
<path d="M980.2 406.3L1030.2 406.3L1030.2 402.1L1022.8 397.2L1017 394.2L1012.2 392.2L1003.7 390L996.1 389.7L991.4 390.6L988.5 391.8L984 395.2L981.9 398.2L980.2 402.1ZM1235.3 406.3L1285.3 406.3L1285.3 402.1L1284.2 399.2L1282.4 396.2L1280.9 394.5L1277.9 392.3L1274.2 390.6L1271.4 389.9L1263.8 389.8L1259.1 390.6L1253.3 392.2L1242.9 397.1L1235.3 402.1Z" fill="#EE8800" fill-rule="evenodd"/>
<path d="M981.8 406.3L1021.4 406.3L1021.4 402.1L1014.2 397.3L1007.8 394.2L999.9 392.1L994.2 392L991.4 392.6L988.5 393.7L985.1 396.2L983.6 398.2L981.9 401.9ZM1244.2 406.3L1283.8 406.3L1283.8 402.1L1282.6 399.2L1281.3 397.2L1279.9 395.7L1277.1 393.7L1272.3 392.1L1266.6 392L1262.8 392.7L1257.9 394.2L1249.6 398.4L1244.2 402.1Z" fill="#EE4300" fill-rule="evenodd"/>
<path d="M983.1 406.3L1014.6 406.3L1014.6 402.1L1010.4 399.1L1004.7 396L999 394.1L993.2 393.8L988.5 395.2L985.1 398.2L983.1 402.1ZM1251 406.3L1282.5 406.3L1282.5 402.1L1280.5 398.2L1277.1 395.2L1273.2 393.9L1268.5 393.9L1264.8 394.6L1260.9 396L1253.6 400.1L1251 402.1Z" fill="#EE0000" fill-rule="evenodd"/>
</g>
<g clip-path="url(#cp3)">
<rect x="780.0" y="404.3" width="705.0" height="126.2" fill="#0000FF"/>
<path d="M902.2 532.5L1363.4 532.5L1363.4 528.6L1359.2 507.8L1354.2 490.9L1349.8 479.5L1346.1 471.4L1342.3 464.2L1336.8 455.2L1326.3 440.9L1319.8 433.4L1313.2 426.7L1299.1 414.5L1289.7 407.7L1281.2 402.3L984.4 402.3L975.9 407.7L967.4 413.8L960.9 419.1L952.4 426.7L939.8 440.3L934.6 446.9L928 456.4L919.7 471.1L915.6 480L911 491.9L907.4 503.8L904.8 514.7L902.2 528.6Z" fill="#0048FF" fill-rule="evenodd"/>
<path d="M933.9 532.5L1331.8 532.5L1331.8 528.6L1328.5 513.8L1324.1 500.8L1319.6 490.9L1312.2 478.8L1304.8 469.1L1296.2 460.1L1284.1 450.1L1271.8 442.1L1260.6 436.1L1244.8 429.4L1229.6 424.4L1209.8 419.6L1192 416.5L1172.2 414.2L1151.6 412.9L1130.9 412.6L1108.4 413.2L1086.8 414.9L1069.9 417.1L1051.1 420.6L1036.1 424.4L1019.1 430L1004.5 436.3L990.9 443.8L978.8 452.2L968.4 461.1L959.9 470.1L955.3 476L950.6 483L944.1 494.9L939.2 506.8L936.6 515.7L934.9 522.6L933.9 528.6Z" fill="#0091FF" fill-rule="evenodd"/>
<path d="M949.1 532.5L1316.6 532.5L1316.6 528.6L1314.1 518.8L1310 507.8L1305.2 498.8L1301.2 492.9L1297.3 487.9L1289.6 480L1280.3 472.6L1271.8 467.3L1259.6 461.3L1248.4 457.1L1236.1 453.6L1223 450.9L1207.9 448.7L1192 447.2L1171.3 446.1L1146.9 445.6L1118.7 445.6L1096.2 446.1L1078.3 446.9L1060.4 448.4L1046.4 450.2L1031.3 453.2L1019.1 456.5L1008.9 460.1L998.4 464.8L988.1 470.8L978.3 478L970.1 485.9L963.7 493.8L958.1 502.8L952.8 514.7L949.4 526.6Z" fill="#00DAFF" fill-rule="evenodd"/>
<path d="M958.6 532.5L1307.1 532.5L1307.1 528.6L1304.8 520.7L1300.5 510.8L1294.7 501.8L1288.4 494.9L1280.3 488.3L1271.8 483.2L1261.5 478.6L1249.3 474.9L1233.3 472.1L1213.6 470.8L1197.6 470.9L1153.4 472.8L1131.9 473.2L1112.1 472.8L1068 470.9L1055.8 470.8L1037 471.6L1028.5 472.6L1018.2 474.5L1007.9 477.3L999.4 480.5L988.1 486.4L981.8 490.9L977.2 494.9L972.6 499.8L967.4 506.8L963.7 513.5L960.9 520.4L958.8 527.6Z" fill="#00FFDA" fill-rule="evenodd"/>
<path d="M965.2 532.5L1300.4 532.5L1300.4 528.6L1297.8 520.7L1294.9 514.7L1289.7 507.2L1283.1 500.9L1275.6 495.8L1269.6 492.9L1261.5 490.1L1252.1 488L1238 486.8L1229.6 486.8L1218.3 487.7L1203.2 489.8L1160.1 498L1145.9 499.7L1131.9 500.2L1119.6 499.7L1105.6 498L1068.3 490.9L1050.1 488L1036.1 486.8L1027.6 486.8L1013.5 488L1004.1 490.1L993.8 493.9L990 495.8L984.4 499.4L980.2 502.8L976.9 506.2L973.9 509.8L970.7 514.7L968.4 519.2L966 525.6L965.2 528.6Z" fill="#00FF91" fill-rule="evenodd"/>
<path d="M970.1 532.5L1102.8 532.5L1102.8 528.6L1075.5 513.8L1062.4 507.8L1052.9 504.1L1042.2 500.8L1033.4 498.8L1024.8 497.6L1015.4 497.2L1006 498.1L998.4 499.8L991.9 502.3L984.5 506.8L978.8 512.1L974.1 518.7L972.2 522.6L970.1 528.6ZM1162.8 532.5L1295.4 532.5L1295.4 528.6L1292.5 520.7L1288.9 514.7L1285 510.1L1279.4 505.5L1272.6 501.8L1265.2 499.2L1256.8 497.7L1247.4 497.2L1238.9 497.8L1227.4 499.8L1216.4 502.9L1203.2 507.8L1186.4 515.7L1162.9 528.6Z" fill="#00FF48" fill-rule="evenodd"/>
<path d="M974 532.5L1062.8 532.5L1062.8 528.6L1056.2 522.6L1049.4 517.7L1044.5 514.7L1036.1 510.5L1028.6 507.8L1019.1 505.4L1010.7 504.6L1006 504.6L999.4 505.5L993.8 507.1L988.1 509.8L983.9 512.8L980.1 516.7L976.2 522.6L974 528.6ZM1202.9 532.5L1291.6 532.5L1291.6 528.6L1289.8 523.6L1286.9 518.4L1284.1 515L1279.4 510.9L1273.6 507.8L1267.1 505.7L1260.6 504.7L1254.9 504.6L1246.4 505.4L1238 507.4L1229.6 510.5L1221.1 514.7L1211.7 520.8L1202.9 528.6Z" fill="#00FF00" fill-rule="evenodd"/>
<path d="M977.1 532.5L1043.9 532.5L1043.9 528.6L1038.8 523.6L1034.2 520.1L1024.7 514.7L1017.2 511.9L1012.6 510.7L1003.2 509.8L998.4 510.2L992.8 511.6L989.1 513.3L984.4 516.6L980.8 520.7L978.6 524.6L977.1 528.6ZM1221.7 532.5L1288.6 532.5L1288.6 528.6L1287.1 524.6L1285 521L1282.3 517.7L1278.8 514.7L1274.6 512.4L1270.9 511L1266.2 510.1L1260.6 509.8L1254 510.5L1248.4 511.9L1243.6 513.5L1236.1 517.1L1228.6 522.2L1221.7 528.6Z" fill="#48FF00" fill-rule="evenodd"/>
<path d="M979.5 532.5L1031.6 532.5L1031.6 528.6L1025 522.6L1019.1 518.9L1015.4 517.1L1010.7 515.3L1006 514.2L1002.2 513.8L997.5 513.9L993.8 514.6L990.6 515.7L987.1 517.7L984.4 520.1L982.3 522.6L979.5 528.6ZM1233.9 532.5L1286.1 532.5L1286.1 528.6L1285 525.8L1283.1 522.4L1280.3 519.2L1277.4 517L1271.8 514.6L1268.1 513.9L1262.4 513.8L1257.1 514.7L1253.8 515.7L1247.4 518.4L1243.6 520.6L1238 524.7L1233.9 528.6Z" fill="#91FF00" fill-rule="evenodd"/>
<path d="M981.6 532.5L1022.9 532.5L1022.9 528.6L1016.3 523L1009.8 519.3L1003.2 517.2L996.6 516.8L990.9 518.1L987.9 519.7L985.3 521.9L983.3 524.6L981.6 528.6ZM1242.8 532.5L1284.1 532.5L1284.1 528.6L1281.2 523.1L1279.4 521L1276.5 518.9L1273.7 517.7L1270.9 517L1268.1 516.7L1264.3 516.9L1260.6 517.6L1255.9 519.3L1251.4 521.7L1247.4 524.4L1242.8 528.6Z" fill="#DAFF00" fill-rule="evenodd"/>
<path d="M983.2 532.5L1016.2 532.5L1016.2 528.6L1011.7 524.6L1006.9 521.7L1001.3 519.6L995.6 519L992.8 519.4L990 520.4L985.9 523.6L984.4 525.9L983.2 528.6ZM1249.4 532.5L1282.4 532.5L1282.4 528.6L1280.3 524.4L1278.8 522.6L1276.5 520.9L1271.8 519.2L1266.2 519.2L1263.4 519.8L1258.7 521.7L1252.6 525.6L1249.4 528.6Z" fill="#FFDA00" fill-rule="evenodd"/>
<path d="M984.6 532.5L1011.1 532.5L1011.1 528.6L1006.9 525L1002.2 522.3L997.5 520.9L993.8 520.9L990.9 521.6L989 522.6L986.2 525.3L984.6 528.6ZM1254.5 532.5L1281 532.5L1281 528.6L1279.4 525.3L1276.6 522.6L1274.6 521.6L1271.8 520.9L1268.1 520.9L1262.7 522.6L1256.6 526.6L1254.5 528.6Z" fill="#FF9100" fill-rule="evenodd"/>
<path d="M985.8 532.5L1007.1 532.5L1007.1 528.6L1004.1 525.9L1000.3 523.6L996.6 522.4L992.8 522.4L989.6 523.6L987.2 525.9L985.8 528.6ZM1258.4 532.5L1279.8 532.5L1279.8 528.6L1278.2 525.6L1276 523.6L1272.8 522.4L1269 522.4L1266.2 523.2L1263.4 524.6L1258.7 528.4Z" fill="#FF4800" fill-rule="evenodd"/>
<path d="M986.8 532.5L1004 532.5L1004 528.6L1001.3 526.2L998.4 524.5L995.6 523.6L992.1 523.6L990 524.4L987.8 526.6L986.8 528.6ZM1261.6 532.5L1278.9 532.5L1278.9 528.6L1277.4 526.1L1275.6 524.4L1272.8 523.5L1269.9 523.6L1265.1 525.6L1261.6 528.6Z" fill="#FF0000" fill-rule="evenodd"/>
</g>
<rect x="781.5" y="146.9" width="702.0" height="127.3" fill="none" stroke="#4FE873" stroke-width="1.3"/>
<line x1="781.0" x2="1484" y1="278.8" y2="278.8" stroke="#2E8C86" stroke-width="1"/>
<line x1="781.0" x2="1484" y1="404.2" y2="404.2" stroke="#86D88A" stroke-width="2"/>
<path d="M781.4 405.3V529.4H1483.6V405.3" fill="none" stroke="#35C86A" stroke-width="0.8"/>
<line x1="1483.6" x2="1483.6" y1="278.3" y2="403.3" stroke="#8FD8C0" stroke-width="0.8"/>
<rect x="777.5" y="550.5" width="709.5" height="40.5" fill="#A0ADBA" stroke="#444" stroke-width="1"/>
<rect x="990.5" y="529.5" width="284" height="61.5" fill="#983927"/><path d="M990.5 591H1274.5" stroke="#4a2018" stroke-width="1"/>
<text x="1131.5" y="572.4" font-size="50.5" fill="#FFFF00" text-anchor="middle">Magnet</text>
<text x="809.6" y="70.6" font-size="61" fill="#FFFF00">(b)</text>
<g font-size="44.7" fill="#FFFF00">
<text x="1285" y="71.2"><tspan font-style="italic">T</tspan> = 10 mm</text>
<text x="1295" y="201"><tspan font-style="italic">T</tspan> = 6 mm</text>
<text x="1292.5" y="321.3"><tspan font-style="italic">T</tspan> = 3 mm</text>
<text x="1292" y="451"><tspan font-style="italic">T</tspan> = 2 mm</text>
</g>
<rect x="1492.3" y="25.5" width="103.7" height="530.6" fill="#fff" stroke="#8a8a8a" stroke-width="1.7"/>
<rect x="1496.7" y="71.6" width="26.6" height="31.6" fill="#FF0000"/>
<rect x="1496.7" y="102.9" width="26.6" height="31.6" fill="#FF4800"/>
<rect x="1496.7" y="134.1" width="26.6" height="31.6" fill="#FF9100"/>
<rect x="1496.7" y="165.4" width="26.6" height="31.6" fill="#FFDA00"/>
<rect x="1496.7" y="196.7" width="26.6" height="31.6" fill="#DAFF00"/>
<rect x="1496.7" y="227.9" width="26.6" height="31.6" fill="#91FF00"/>
<rect x="1496.7" y="259.2" width="26.6" height="31.6" fill="#48FF00"/>
<rect x="1496.7" y="290.5" width="26.6" height="31.6" fill="#00FF00"/>
<rect x="1496.7" y="321.8" width="26.6" height="31.6" fill="#00FF48"/>
<rect x="1496.7" y="353" width="26.6" height="31.6" fill="#00FF91"/>
<rect x="1496.7" y="384.3" width="26.6" height="31.6" fill="#00FFDA"/>
<rect x="1496.7" y="415.6" width="26.6" height="31.6" fill="#00DAFF"/>
<rect x="1496.7" y="446.8" width="26.6" height="31.6" fill="#0091FF"/>
<rect x="1496.7" y="478.1" width="26.6" height="31.6" fill="#0048FF"/>
<rect x="1496.7" y="509.4" width="26.6" height="31.6" fill="#0000FF"/>
<g font-family="'Liberation Sans', sans-serif" fill="#2a2a2a">
<text transform="translate(1496.7 54.3) scale(0.76 1)" font-size="15.8" font-weight="bold">H [A/m]</text>
<text transform="translate(1592.5 76.2) scale(0.745 1)" font-size="14.4" text-anchor="end">3.4000E+05</text>
<text transform="translate(1592.5 107.5) scale(0.745 1)" font-size="14.4" text-anchor="end">3.1800E+05</text>
<text transform="translate(1592.5 138.7) scale(0.745 1)" font-size="14.4" text-anchor="end">2.9600E+05</text>
<text transform="translate(1592.5 170) scale(0.745 1)" font-size="14.4" text-anchor="end">2.7400E+05</text>
<text transform="translate(1592.5 201.3) scale(0.745 1)" font-size="14.4" text-anchor="end">2.5200E+05</text>
<text transform="translate(1592.5 232.5) scale(0.745 1)" font-size="14.4" text-anchor="end">2.3000E+05</text>
<text transform="translate(1592.5 263.8) scale(0.745 1)" font-size="14.4" text-anchor="end">2.0800E+05</text>
<text transform="translate(1592.5 295.1) scale(0.745 1)" font-size="14.4" text-anchor="end">1.8600E+05</text>
<text transform="translate(1592.5 326.4) scale(0.745 1)" font-size="14.4" text-anchor="end">1.6400E+05</text>
<text transform="translate(1592.5 357.6) scale(0.745 1)" font-size="14.4" text-anchor="end">1.4200E+05</text>
<text transform="translate(1592.5 388.9) scale(0.745 1)" font-size="14.4" text-anchor="end">1.2000E+05</text>
<text transform="translate(1592.5 420.2) scale(0.745 1)" font-size="14.4" text-anchor="end">9.8000E+04</text>
<text transform="translate(1592.5 451.4) scale(0.745 1)" font-size="14.4" text-anchor="end">7.6000E+04</text>
<text transform="translate(1592.5 482.7) scale(0.745 1)" font-size="14.4" text-anchor="end">5.4000E+04</text>
<text transform="translate(1592.5 514) scale(0.745 1)" font-size="14.4" text-anchor="end">3.2000E+04</text>
<text transform="translate(1592.5 545.2) scale(0.745 1)" font-size="14.4" text-anchor="end">1.0000E+04</text>
</g>
</svg>
</body></html>
